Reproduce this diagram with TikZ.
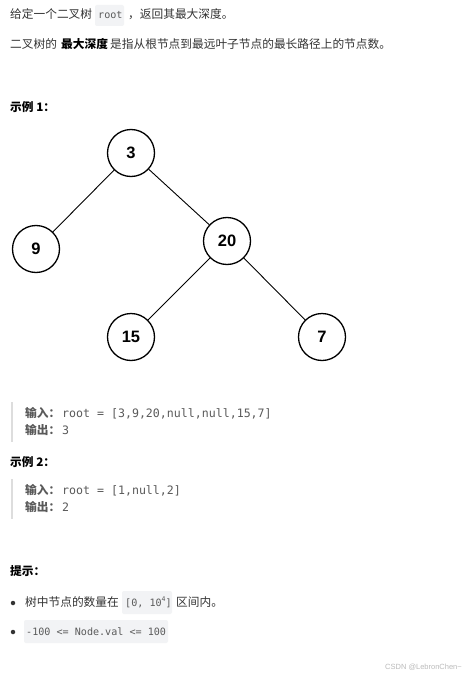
\documentclass[tikz,border=0pt]{standalone}
\usepackage{fontspec}
\setmainfont{Noto Sans CJK SC}
\newfontfamily\codefont{DejaVu Sans Mono}
\newfontfamily\numfont{Liberation Sans}
\definecolor{textc}{HTML}{333333}
\definecolor{codec}{HTML}{5A5A5A}
\definecolor{codebg}{HTML}{F2F3F5}
\definecolor{barc}{HTML}{DDDDDD}
\definecolor{wmc}{HTML}{BBBBBB}
\begin{document}
\begin{tikzpicture}[x=1pt,y=-1pt,
  txt/.style={anchor=base west, inner sep=0pt, text=textc, font=\fontsize{11.7}{14}\selectfont},
  btxt/.style={txt, text=black, font=\fontsize{11.7}{14}\selectfont\bfseries},
  code/.style={anchor=base west, inner sep=0pt, text=codec, font=\codefont\fontsize{11.6}{14}\selectfont},
  icode/.style={anchor=base west, inner sep=0pt, text=codec, font=\codefont\fontsize{10.1}{12}\selectfont},
  cbox/.style={fill=codebg, rounded corners=2pt},
  tnode/.style={circle, draw=black, line width=1.3pt, minimum size=47pt, inner sep=0pt, font=\numfont\bfseries\fontsize{16.5}{18}\selectfont},
  edge/.style={draw=black, line width=0.9pt},
  bar/.style={draw=barc, line width=2pt},
  bul/.style={circle, fill=textc, inner sep=0pt, minimum size=4.5pt}
]
\useasboundingbox (0,0) rectangle (474,674);
\fill[white] (0,0) rectangle (474,674);

% line 1
\fill[cbox] (95,5) rectangle (124,26);
\node[txt] (l1a) at (10,19) {给定一个二叉树};
\node[icode] (l1b) at (98,19) {root};
\node[txt] (l1c) at (128,19) {，返回其最大深度。};

% line 2
\node[txt] (l2a) at (10,49) {二叉树的};
\node[btxt] (l2b) at (61,49) {最大深度};
\node[txt] (l2c) at (110,49) {是指从根节点到最远叶子节点的最长路径上的节点数。};

% example 1
\node[btxt] (ex1) at (10,111) {示例 1：};

\node[tnode] (n3) at (131,153) {3};
\node[tnode] (n9) at (36,249) {9};
\node[tnode] (n20) at (227,241) {20};
\node[tnode] (n15) at (131,337) {15};
\node[tnode] (n7) at (322,337) {7};
\draw[edge] (n3) -- (n9);
\draw[edge] (n3) -- (n20);
\draw[edge] (n20) -- (n15);
\draw[edge] (n20) -- (n7);

\coordinate (b1t) at (12,402);
\coordinate (b1b) at (12,442);
\draw[bar] (b1t) -- (b1b);
\node[btxt, text=codec] (in1) at (25,417) {输入：};
\node[code] (in1c) at (62,417) {root = [3,9,20,null,null,15,7]};
\node[btxt, text=codec] (out1) at (25,434) {输出：};
\node[code] (out1c) at (62,434) {3};

% example 2
\node[btxt] (ex2) at (10,466) {示例 2：};
\coordinate (b2t) at (12,479);
\coordinate (b2b) at (12,519);
\draw[bar] (b2t) -- (b2b);
\node[btxt, text=codec] (in2) at (25,494) {输入：};
\node[code] (in2c) at (62,494) {root = [1,null,2]};
\node[btxt, text=codec] (out2) at (25,511) {输出：};
\node[code] (out2c) at (62,511) {2};

% hints
\node[btxt] (hint) at (10,575) {提示：};
\node[bul] (d1) at (13,603) {};
\node[txt] (h1a) at (25,606) {树中节点的数量在};
\fill[cbox] (122,591) rectangle (172,614);
\node[icode] (h1b) at (125,606) {[0, 10\raisebox{0.45em}{\fontsize{6.5}{7}\selectfont 4}]};
\node[txt] (h1c) at (176,606) {区间内。};
\node[bul] (d2) at (13,632) {};
\fill[cbox] (24,620) rectangle (168,643);
\node[icode] (h2) at (26,635) {-100 <= Node.val <= 100};

\node[anchor=base east, inner sep=0pt, text=wmc, font=\numfont\fontsize{7.5}{9}\selectfont] (wm) at (462,669) {CSDN @LebronChen\textasciitilde};
\end{tikzpicture}
\end{document}
